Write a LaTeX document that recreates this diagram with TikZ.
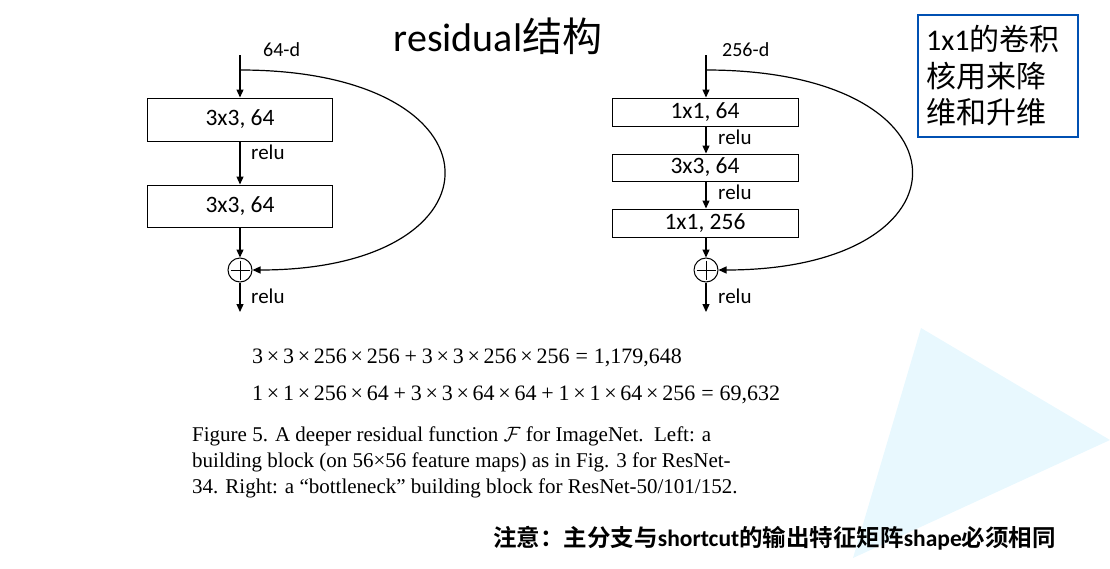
\documentclass[tikz,border=0pt]{standalone}
\usepackage{fontspec}
\setmainfont{Liberation Serif}
\newfontfamily\calfont{Carlito}
\newfontfamily\cjk{Noto Sans CJK SC}
\newfontfamily\cjkb{Noto Sans CJK SC Bold}
\usetikzlibrary{arrows.meta}
\newcommand\tm{\hspace{0.17em}×\hspace{0.17em}}
\newcommand\tp{\hspace{0.22em}+\hspace{0.22em}}
\newcommand\te{\hspace{0.27em}=\hspace{0.27em}}
\begin{document}
\begin{tikzpicture}[x=1pt,y=-1pt,
  blk/.style={draw,line width=1pt,minimum width=185pt,inner sep=0pt,font=\calfont\fontsize{23.5}{23.5}\selectfont},
  lbl/.style={font=\calfont\fontsize{21}{21}\selectfont,anchor=west,inner sep=0pt},
  sum/.style={draw,circle,line width=1pt,minimum size=24pt,inner sep=0pt},
  arr/.style={-{Triangle[length=8pt,width=7pt]},line width=1.2pt}]
\useasboundingbox (0,0) rectangle (1110,568);
\fill[cyan!9] (921,328) -- (1110,440) -- (853,558) -- cycle;
\node[font=\calfont\fontsize{40}{40}\selectfont] (title) at (498,36) {residual\cjk 结构};
% left
\coordinate (lt) at (240,55);
\coordinate (ls) at (240,70);
\node[blk,minimum height=43pt] (l1) at (240,119.5) {3x3, 64};
\node[blk,minimum height=42pt] (l2) at (240,206) {3x3, 64};
\node[sum] (lc) at (240,270) {};
\draw[line width=1pt] ([xshift=3pt]lc.west)--([xshift=-3pt]lc.east) ([yshift=-3pt]lc.north)--([yshift=3pt]lc.south);
\coordinate (lo) at (240,312);
\draw[arr] (lt)--(l1.north);
\draw[arr] (l1)--(l2);
\draw[arr] (l2)--(lc);
\draw[arr] (lc)--(lo);
\draw[arr] (ls) .. controls (510,70) and (510,270) .. (lc.east);
\node[lbl,font=\calfont\fontsize{20}{20}\selectfont] (ld) at (263,50) {64-d};
\node[lbl] (lr1) at (251,152) {relu};
\node[lbl] (lr2) at (251,296) {relu};
% right
\coordinate (rt) at (706,55);
\coordinate (rs) at (706,70);
\node[blk,minimum height=28pt,minimum width=186pt] (r1) at (705,112) {1x1, 64};
\node[blk,minimum height=27pt,minimum width=186pt] (r2) at (705,167.5) {3x3, 64};
\node[blk,minimum height=28pt,minimum width=186pt] (r3) at (705,223) {1x1, 256};
\node[sum] (rc) at (706,270) {};
\draw[line width=1pt] ([xshift=3pt]rc.west)--([xshift=-3pt]rc.east) ([yshift=-3pt]rc.north)--([yshift=3pt]rc.south);
\coordinate (ro) at (706,312);
\draw[arr] (rt)--(r1.north -| rt);
\draw[arr] (r1.south -| rt)--(r2.north -| rt);
\draw[arr] (r2.south -| rt)--(r3.north -| rt);
\draw[arr] (r3.south -| rt)--(rc);
\draw[arr] (rc)--(ro);
\draw[arr] (rs) .. controls (978,70) and (978,270) .. (rc.east);
\node[lbl,font=\calfont\fontsize{20}{20}\selectfont] (rd) at (722,50) {256-d};
\node[lbl] (rr1) at (718,137) {relu};
\node[lbl] (rr2) at (718,192) {relu};
\node[lbl] (rr3) at (718,296) {relu};
% note box
\node[draw=blue!55!cyan!70!black,line width=1.5pt,minimum width=160pt,minimum height=122pt,inner sep=0pt,align=left,anchor=north west] (nb) at (917,14) {};
\node[anchor=north west,inner sep=0pt,align=left,font=\cjk\fontsize{30}{36.5}\selectfont] (nt) at (926,25) {{\calfont 1x1}的卷积\\核用来降\\维和升维};
% equations
\node[anchor=west,inner sep=0pt,font=\fontsize{22}{22}\selectfont] (e1) at (252,358) {3\tm3\tm256\tm256\tp3\tm3\tm256\tm256\te1,179,648};
\node[anchor=west,inner sep=0pt,font=\fontsize{22}{22}\selectfont] (e2) at (252,395) {1\tm1\tm256\tm64\tp3\tm3\tm64\tm64\tp1\tm1\tm64\tm256\te69,632};
\node[anchor=north west,inner sep=0pt,align=left,font=\fontsize{21}{26}\selectfont] (cap) at (192,427) {Figure 5. A deeper residual function $\mathcal{F}$ for ImageNet.\ \ Left: a\\building block (on 56×56 feature maps) as in Fig. 3 for ResNet-\\34. Right: a “bottleneck” building block for ResNet-50/101/152.};
\node[anchor=east,inner sep=0pt,font=\cjkb\fontsize{23.5}{23.5}\selectfont] (note) at (1056,538) {注意：主分支与{\calfont\bfseries shortcut}的输出特征矩阵{\calfont\bfseries shape}必须相同};
\end{tikzpicture}
\end{document}
